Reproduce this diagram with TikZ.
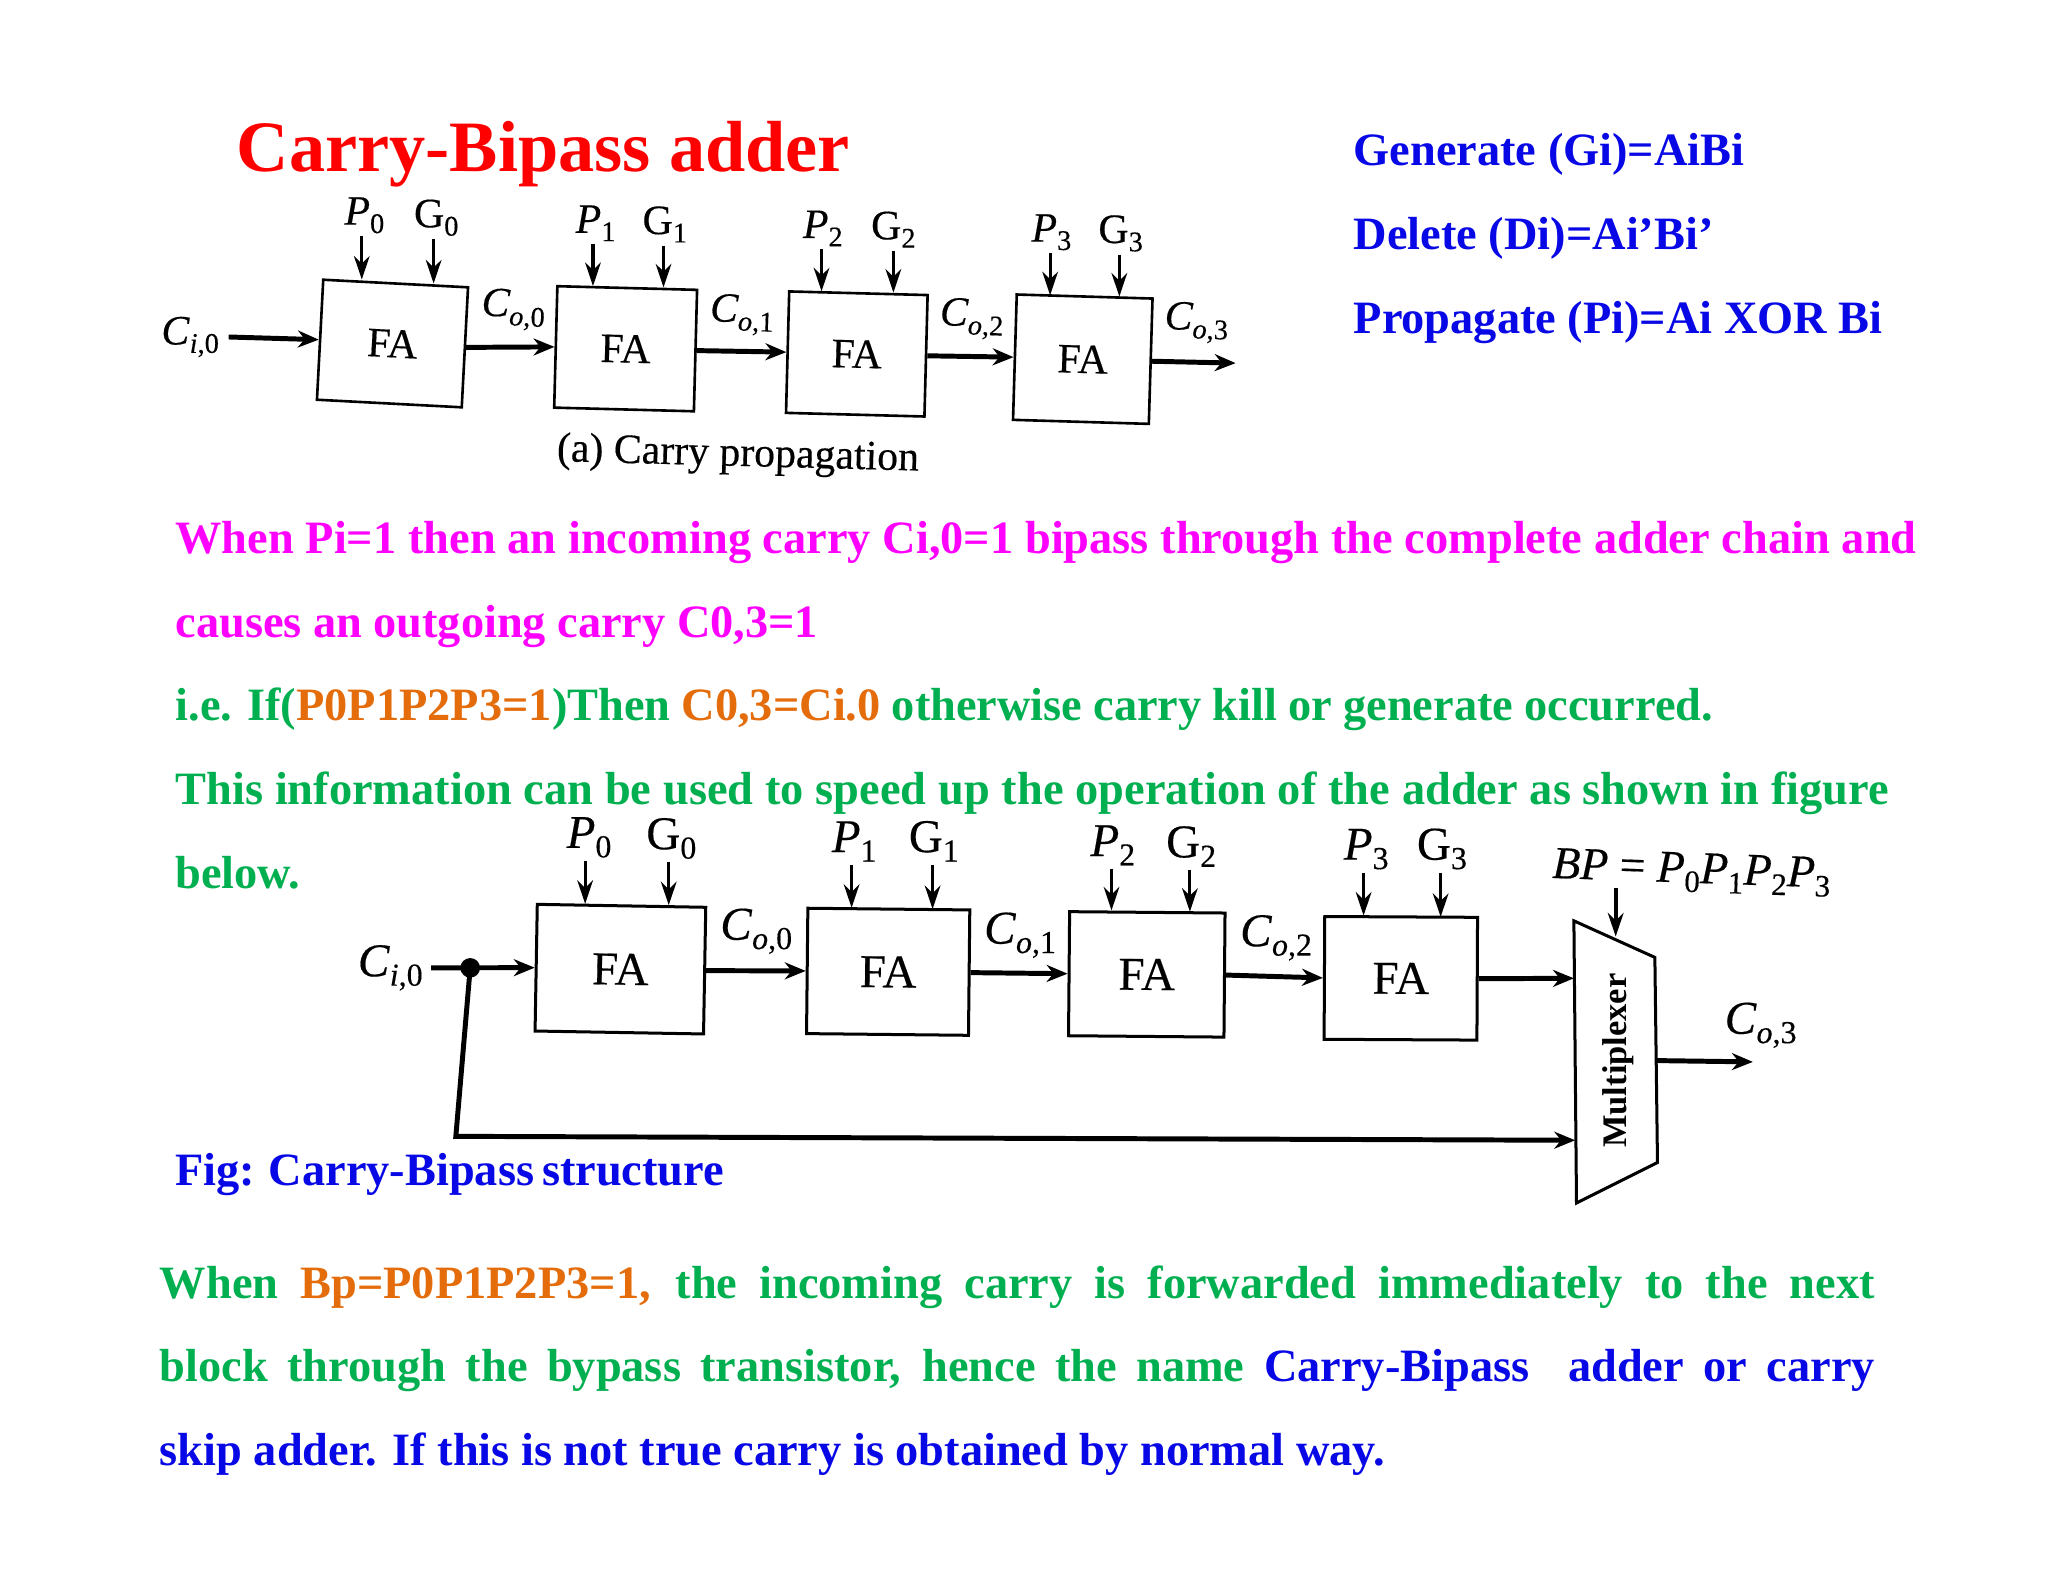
\documentclass[tikz,border=0pt]{standalone}
\usepackage{fontspec}
\setmainfont{Liberation Serif}
\newfontfamily\scanf[FakeBold=0.35]{Liberation Serif}
\usetikzlibrary{arrows.meta}
\definecolor{cblue}{RGB}{8,8,230}
\definecolor{cmag}{RGB}{255,0,255}
\definecolor{cgreen}{RGB}{0,176,80}
\definecolor{corange}{RGB}{228,108,10}
\newcommand\sbx[1]{\raisebox{-0.2em}{\scalebox{.68}{#1}}}
\newcommand\Pl[1]{\textit{P}\sbx{#1}}
\newcommand\Gl[1]{G\sbx{#1}}
\newcommand\Cl[1]{\textit{C}\sbx{\textit{o},#1}}
\newcommand\fitl[2]{\makebox[\dimexpr #1pt/2\relax][s]{#2}}
\newcommand\fs[1]{\fontsize{#1}{#1}\selectfont}
\tikzset{
  x=0.5pt,y=-0.5pt,
  fa/.style={draw,line width=1pt,inner sep=0pt,fill=white,font=\scanf\fs{16}},
  fb/.style={draw,line width=1.15pt,inner sep=0pt,fill=white,font=\scanf\fs{18}},
  laba/.style={font=\scanf\fs{16},inner sep=1pt,anchor=south},
  labb/.style={font=\scanf\fs{18},inner sep=1pt,anchor=south},
  clab/.style={font=\scanf\fs{16},inner sep=0pt},
  clbb/.style={font=\scanf\fs{18},inner sep=0pt},
  heavy/.style={line width=1.9pt,-{Stealth[length=8pt,width=6.5pt]}},
  light/.style={line width=1.2pt,-{Stealth[length=9pt,width=6pt]}},
  txt/.style={font=\fs{17.75}\bfseries,anchor=base west,inner sep=0pt},
}
\begin{document}
\begin{tikzpicture}
\useasboundingbox[fill=white] (0,0) rectangle (1568,1211);
% headings
\node[txt,text=red,font=\fs{27.7}\bfseries] (title) at (181,131) {Carry-Bipass adder};
\node[txt,text=cblue] (gen) at (1036,127) {Generate (Gi)=AiBi};
\node[txt,text=cblue] (del) at (1036,191) {Delete (Di)=Ai’Bi’};
\node[txt,text=cblue] (pro) at (1036,255) {Propagate (Pi)=Ai XOR Bi};
% body text
\node[txt,text=cmag] (t1) at (134,424) {\fitl{1333}{When Pi=1 then an incoming carry Ci,0=1 bipass through the complete adder chain and}};
\node[txt,text=cmag] (t2) at (134,488) {\fitl{492}{causes an outgoing carry C0,3=1}};
\node[txt,text=cgreen] (t3) at (134,552) {\fitl{1177}{i.e. If(\textcolor{corange}{P0P1P2P3=1})Then \textcolor{corange}{C0,3=Ci.0} otherwise carry kill or generate occurred.}};
\node[txt,text=cgreen] (t4) at (134,616) {\fitl{1312}{This information can be used to speed up the operation of the adder as shown in figure}};
\node[txt,text=cgreen] (t5) at (134,680) {\fitl{95}{below.}};
\node[txt,text=cblue] (t6) at (134,908) {\fitl{420}{Fig: Carry-Bipass structure}};
\node[txt,text=cgreen] (t7) at (122,994) {\fitl{1313}{When \textcolor{corange}{Bp=P0P1P2P3=1,} the incoming carry is forwarded immediately to the next}};
\node[txt,text=cgreen] (t8) at (122,1058) {\fitl{1313}{block through the bypass transistor, hence the name \textcolor{cblue}{Carry-Bipass\ \ adder or carry}}};
\node[txt,text=cblue] (t9) at (122,1122) {\fitl{938}{skip adder. If this is not true carry is obtained by normal way.}};
% --- diagram (a)
\node[fa,minimum width=55.5pt,minimum height=46pt,rotate=-3] (a1) at (300.5,263) {FA};
\node[fa,minimum width=53.5pt,minimum height=46.5pt,rotate=-1.5] (a2) at (479,267) {FA};
\node[fa,minimum width=53pt,minimum height=46.5pt,rotate=-1.5] (a3) at (656,271) {FA};
\node[fa,minimum width=52pt,minimum height=48pt,rotate=-1.7] (a4) at (829,275) {FA};
\node[clab,anchor=east,inner xsep=3.5pt] (acin) at (175,258) {\textit{C}\sbx{\textit{i},0}};
\coordinate (aout) at (946,278);
\draw[heavy] (acin.east) -- (a1.west);
\draw[heavy] (a1.east) -- (a2.west);
\draw[heavy] (a2.east) -- (a3.west);
\draw[heavy] (a3.east) -- (a4.west);
\draw[heavy] (a4.east) -- (aout);
\node[clab,rotate=-3] (ac0) at (393,237) {\Cl{0}};
\node[clab,rotate=-2] (ac1) at (568,241) {\Cl{1}};
\node[clab,rotate=-2] (ac2) at (744,244) {\Cl{2}};
\node[clab,rotate=-2] (ac3) at (916,247) {\Cl{3}};
\node[laba] (ap0) at (279,181) {\Pl{0}};
\node[laba] (ag0) at (334,183) {\Gl{0}};
\node[laba] (ap1) at (456,187) {\Pl{1}};
\node[laba] (ag1) at (509,188) {\Gl{1}};
\node[laba] (ap2) at (630,191) {\Pl{2}};
\node[laba] (ag2) at (684,192) {\Gl{2}};
\node[laba] (ap3) at (805,194) {\Pl{3}};
\node[laba] (ag3) at (858,195) {\Gl{3}};
\coordinate (aa0) at (277,214); \coordinate (ab0) at (332,217);
\coordinate (aa1) at (454,219); \coordinate (ab1) at (508,220);
\coordinate (aa2) at (629,223); \coordinate (ab2) at (684,224);
\coordinate (aa3) at (804,226); \coordinate (ab3) at (857,227);
\draw[light] (ap0.south -| aa0) -- (aa0);
\draw[light] (ag0.south -| ab0) -- (ab0);
\draw[light] (ap1.south -| aa1) -- (aa1);
\draw[light] (ag1.south -| ab1) -- (ab1);
\draw[light] (ap2.south -| aa2) -- (aa2);
\draw[light] (ag2.south -| ab2) -- (ab2);
\draw[light] (ap3.south -| aa3) -- (aa3);
\draw[light] (ag3.south -| ab3) -- (ab3);
\node[font=\scanf\fs{16},inner sep=0pt,rotate=-1.5] (acap) at (565,349) {(a) Carry propagation};
% --- diagram (b)
\node[fb,minimum width=64.5pt,minimum height=48.5pt,rotate=-1] (b1) at (475,742) {FA};
\node[fb,minimum width=62pt,minimum height=48pt,rotate=-0.6] (b2) at (680,744) {FA};
\node[fb,minimum width=59.5pt,minimum height=47.5pt,rotate=-0.5] (b3) at (878,746) {FA};
\node[fb,minimum width=58.5pt,minimum height=47pt,rotate=-0.3] (b4) at (1072.5,749) {FA};
\coordinate (m1) at (1205,705);
\coordinate (m2) at (1267,733);
\coordinate (m3) at (1269,890);
\coordinate (m4) at (1207,921);
\draw[line width=1.15pt,fill=white] (m1) -- (m2) -- (m3) -- (m4) -- cycle;
\node[font=\fs{13.2}\bfseries,inner sep=0pt,rotate=90] (mux) at (1239,812) {Multiplexer};
\node[clbb,anchor=east,inner xsep=3pt] (bcin) at (330,741) {\textit{C}\sbx{\textit{i},0}};
\node[circle,fill=black,inner sep=0pt,minimum size=7.5pt] (dot) at (360,741) {};
\coordinate (mi1) at (1205,749);
\coordinate (mi2) at (1206,873);
\coordinate (mo) at (1268,812);
\coordinate (bout) at (1342,813);
\coordinate (bend) at (349,870);
\coordinate (bpe) at (1237,717);
\draw[heavy] (bcin.east) -- (b1.west);
\draw[heavy] (b1.east) -- (b2.west);
\draw[heavy] (b2.east) -- (b3.west);
\draw[heavy] (b3.east) -- (b4.west);
\draw[heavy] (b4.east) -- (mi1);
\draw[heavy] (mo) -- (bout);
\draw[heavy,line join=miter] (dot.center) -- (bend) -- (mi2);
\node[clbb] (bc0) at (579,713) {\Cl{0}};
\node[clbb] (bc1) at (781,716) {\Cl{1}};
\node[clbb] (bc2) at (977,718) {\Cl{2}};
\node[clbb] (bc3) at (1348,785) {\Cl{3}};
\node[labb] (bp0) at (451,659) {\Pl{0}};
\node[labb] (bg0) at (514,660) {\Gl{0}};
\node[labb] (bp1) at (654,662) {\Pl{1}};
\node[labb] (bg1) at (715,662) {\Gl{1}};
\node[labb] (bp2) at (852,665) {\Pl{2}};
\node[labb] (bg2) at (912,666) {\Gl{2}};
\node[labb] (bp3) at (1046,668) {\Pl{3}};
\node[labb] (bg3) at (1104,668) {\Gl{3}};
\coordinate (ba0) at (448,692); \coordinate (bb0) at (512,693);
\coordinate (ba1) at (652,695); \coordinate (bb1) at (714,696);
\coordinate (ba2) at (851,697); \coordinate (bb2) at (911,698);
\coordinate (ba3) at (1044,701); \coordinate (bb3) at (1103,702);
\draw[light] (bp0.south -| ba0) -- (ba0);
\draw[light] (bg0.south -| bb0) -- (bb0);
\draw[light] (bp1.south -| ba1) -- (ba1);
\draw[light] (bg1.south -| bb1) -- (bb1);
\draw[light] (bp2.south -| ba2) -- (ba2);
\draw[light] (bg2.south -| bb2) -- (bb2);
\draw[light] (bp3.south -| ba3) -- (ba3);
\draw[light] (bg3.south -| bb3) -- (bb3);
\node[font=\scanf\fs{17.5},inner sep=1pt,rotate=-2] (bpl) at (1295,668) {\textit{BP} = \Pl{0}\Pl{1}\Pl{2}\Pl{3}};
\coordinate (bps) at (1237,680);
\draw[light,line width=1.6pt] (bps) -- (bpe);
\end{tikzpicture}
\end{document}
